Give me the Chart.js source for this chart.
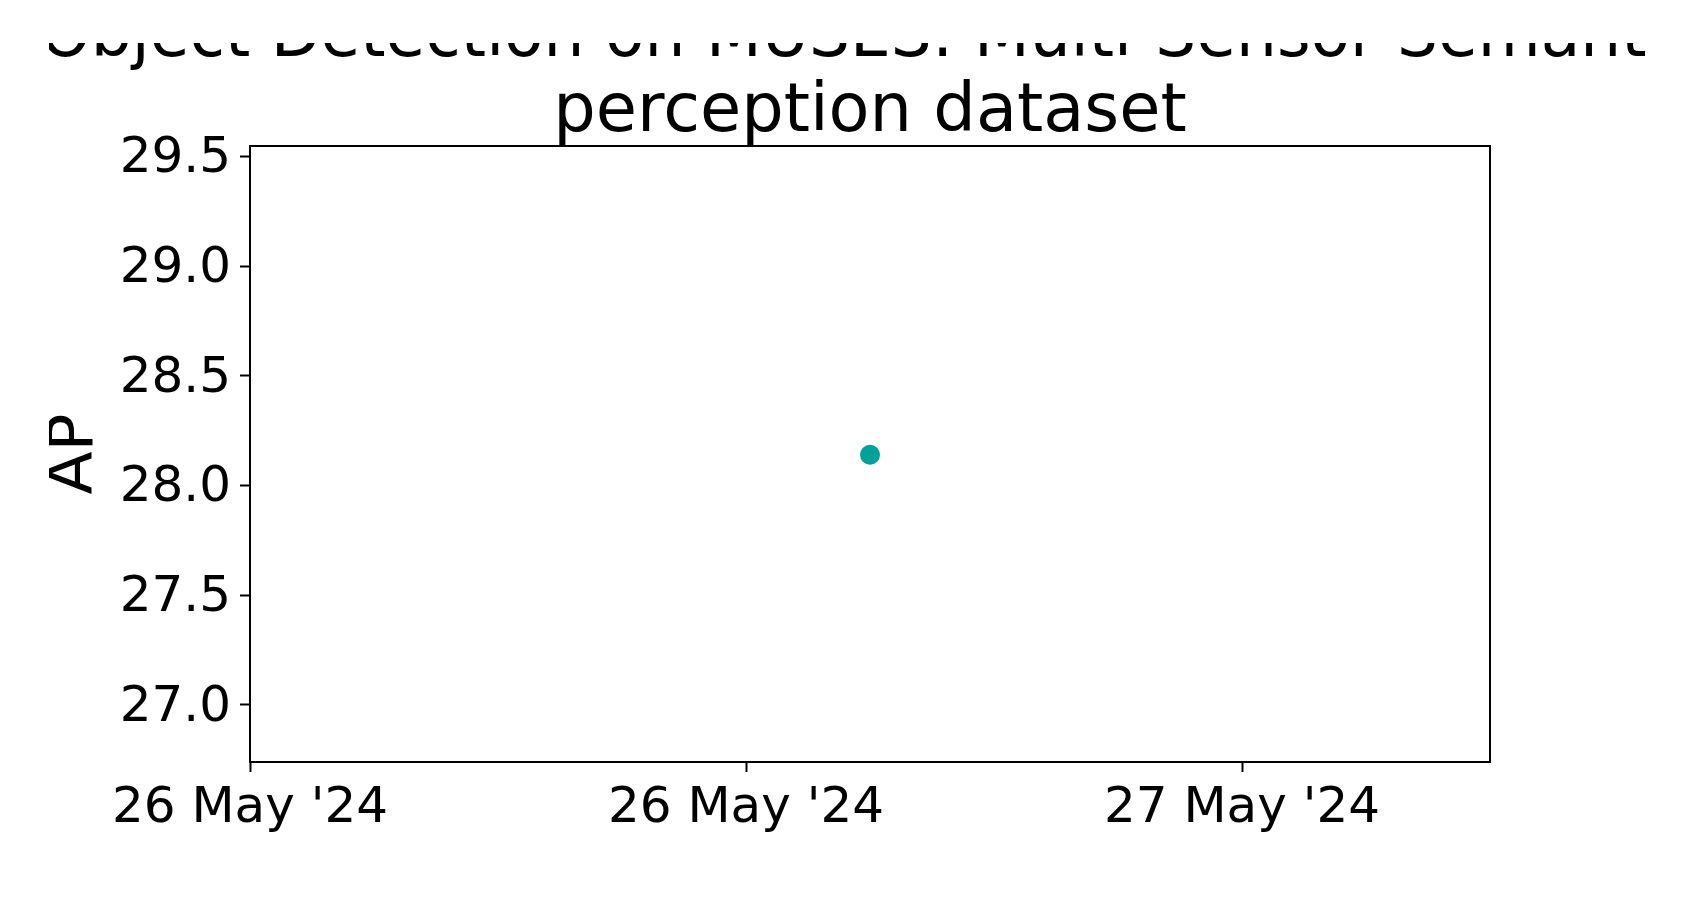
<!DOCTYPE html>
<html>
<head>
<meta charset="utf-8">
<script src="https://cdn.jsdelivr.net/npm/chart.js@4/dist/chart.umd.min.js"></script>
<style>
  html, body { margin: 0; padding: 0; background: #ffffff; }
  #wrap { position: absolute; left: 0; top: 0; width: 1700px; height: 900px; background: #ffffff; }
  #c { clip-path: inset(43px 52px 0px 49px); }
</style>
</head>
<body>
<div id="wrap"><canvas id="c"></canvas></div>
<script>
// ---- data ----
const titleLines = ['Object Detection on MUSES: Multi-Sensor Semantic', 'perception dataset'];
const yAxisTitle = 'AP';
const pointDates = ['2024-05-26T15:00:00Z'];
const pointValues = [28.14];
const xTickDates = ['2024-05-26T00:00:00Z', '2024-05-26T12:00:00Z', '2024-05-27T00:00:00Z'];
const xTickLabels = ["26 May '24", "26 May '24", "27 May '24"];
const xRangeDates = ['2024-05-26T00:00:00Z', '2024-05-27T06:00:00Z'];
const yTicks = [27.0, 27.5, 28.0, 28.5, 29.0, 29.5];
const yRange = [26.74, 29.547];

// hours since the start of the x range
const origin = Date.parse(xRangeDates[0]);
const toHours = d => (Date.parse(d) - origin) / 3600000;

const points = pointDates.map((d, i) => ({ x: toHours(d), y: pointValues[i] }));
const xTickValues = xTickDates.map(toHours);

const FONT = "'DejaVu Sans', 'Liberation Sans', sans-serif";

new Chart(document.getElementById('c'), {
  type: 'scatter',
  data: {
    datasets: [{
      data: points,
      backgroundColor: '#00a298',
      borderWidth: 0,
      pointRadius: 10,
      pointHoverRadius: 10,
      xAxisID: 'x',
      yAxisID: 'y'
    }]
  },
  options: {
    responsive: true,
    maintainAspectRatio: false,
    animation: false,
    events: [],
    layout: { padding: { left: 40, right: 0, top: 0, bottom: 0 } },
    plugins: {
      legend: { display: false },
      tooltip: { enabled: false },
      title: {
        display: true,
        text: titleLines,
        color: '#000000',
        font: { family: FONT, size: 67, weight: 'normal', lineHeight: 75 / 67 },
        padding: { top: 1.5, bottom: -5.5 }
      }
    },
    scales: {
      x: {
        type: 'linear',
        position: 'bottom',
        min: toHours(xRangeDates[0]),
        max: toHours(xRangeDates[1]),
        afterBuildTicks: s => { s.ticks = xTickValues.map(v => ({ value: v })); },
        afterFit: s => { s.height = 138; },
        ticks: {
          color: '#000000',
          font: { family: FONT, size: 50 },
          padding: 7,
          maxRotation: 0,
          autoSkip: false,
          callback: (v, i) => xTickLabels[i]
        },
        grid: { drawOnChartArea: false, drawTicks: true, tickLength: 10, tickWidth: 2, tickColor: '#000000' },
        border: { display: true, color: '#000000', width: 2 }
      },
      y: {
        type: 'linear',
        position: 'left',
        min: yRange[0],
        max: yRange[1],
        afterBuildTicks: s => { s.ticks = yTicks.map(v => ({ value: v })); },
        afterFit: s => { s.width = 210; },
        ticks: {
          color: '#000000',
          font: { family: FONT, size: 50 },
          padding: 9,
          labelOffset: 3,
          autoSkip: false,
          callback: v => Number(v).toFixed(1)
        },
        grid: { drawOnChartArea: false, drawTicks: true, tickLength: 10, tickWidth: 2, tickColor: '#000000' },
        border: { display: true, color: '#000000', width: 2 },
        title: {
          display: true,
          text: yAxisTitle,
          color: '#000000',
          font: { family: FONT, size: 63, lineHeight: 72 / 63 },
          padding: { top: 0, bottom: 0 }
        }
      },
      x2: {
        type: 'linear',
        position: 'top',
        min: toHours(xRangeDates[0]),
        max: toHours(xRangeDates[1]),
        afterFit: s => { s.height = 0; },
        ticks: { display: false },
        grid: { display: false, drawTicks: false },
        border: { display: true, color: '#000000', width: 2 }
      },
      y2: {
        type: 'linear',
        position: 'right',
        min: yRange[0],
        max: yRange[1],
        afterFit: s => { s.width = 210; },
        ticks: { display: false },
        grid: { display: false, drawTicks: false },
        border: { display: true, color: '#000000', width: 2 }
      }
    }
  }
});
</script>
</body>
</html>
